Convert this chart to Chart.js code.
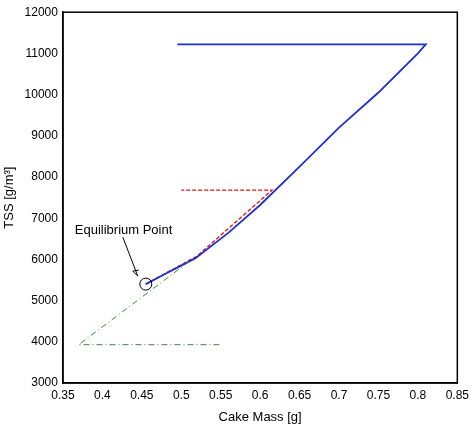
<!DOCTYPE html>
<html><head>
<script src="https://cdn.jsdelivr.net/npm/chart.js@4"></script>
<style>body{margin:0;background:#fff}#wrap{width:474px;height:427px}</style>
</head><body><div id="wrap"><canvas id="c"></canvas></div>
<script>
const blueX = [0.455, 0.48, 0.5, 0.518, 0.56, 0.6, 0.65, 0.7, 0.75, 0.8, 0.81, 0.495];
const blueY = [5400, 5650, 5850, 6030, 6650, 7320, 8250, 9200, 10050, 11000, 11220, 11220];
const redX = [0.455, 0.52, 0.615, 0.50];
const redY = [5400, 6080, 7680, 7680];
const greenX = [0.51, 0.37, 0.55];
const greenY = [5950, 3930, 3930];
const eqX = 0.455, eqY = 5400;

const pts = (xs, ys) => xs.map((x, i) => ({x, y: ys[i]}));

const annot = {
  id: 'annot',
  afterDatasetsDraw(chart) {
    const {ctx, scales: {x, y}, chartArea: a} = chart;
    const px = x.getPixelForValue(eqX), py = y.getPixelForValue(eqY);
    ctx.save();
    ctx.strokeStyle = '#000'; ctx.lineWidth = 1;
    ctx.beginPath(); ctx.arc(px, py, 6, 0, Math.PI * 2); ctx.stroke();
    ctx.beginPath(); ctx.moveTo(px - 23, py - 47); ctx.lineTo(px - 8, py - 8); ctx.stroke();
    ctx.beginPath(); ctx.moveTo(px - 8, py - 8); ctx.lineTo(px - 13, py - 13); ctx.lineTo(px - 7, py - 14); ctx.stroke();
    ctx.fillStyle = '#000'; ctx.font = '13px Arial, "Liberation Sans"';
    ctx.fillText('Equilibrium Point', px - 71, py - 50);
    ctx.lineWidth = 1.5; ctx.strokeRect(a.left, a.top, a.right - a.left, a.bottom - a.top);
    ctx.restore();
  }
};

new Chart(document.getElementById('c'), {
  type: 'scatter',
  data: { datasets: [
    { data: pts(greenX, greenY), showLine: true, borderColor: '#3a8a3a', borderWidth: 1, borderDash: [6, 3, 1, 3], pointRadius: 0 },
    { data: pts(blueX, blueY), showLine: true, borderColor: '#1f2fd0', borderWidth: 1.8, pointRadius: 0 },
    { data: pts(redX, redY), showLine: true, borderColor: '#e01010', borderWidth: 1.3, borderDash: [4, 2], pointRadius: 0 }
  ]},
  options: {
    responsive: true, maintainAspectRatio: false, animation: false,
    layout: { padding: { top: 6, right: 8 } },
    plugins: { legend: { display: false }, tooltip: { enabled: false } },
    scales: {
      x: { min: 0.35, max: 0.85, grid: { display: false, drawTicks: false },
        border: { color: '#000', width: 1.5 },
        ticks: { stepSize: 0.05, color: '#000', font: { size: 12, family: 'Arial, "Liberation Sans"' }, padding: 5,
          callback: v => +v.toFixed(2) + '' },
        title: { display: true, text: 'Cake Mass [g]', color: '#000', font: { size: 13, family: 'Arial, "Liberation Sans"' }, padding: 2 } },
      y: { min: 3000, max: 12000, grid: { display: false, drawTicks: false },
        border: { color: '#000', width: 1.5 },
        ticks: { stepSize: 1000, color: '#000', font: { size: 12, family: 'Arial, "Liberation Sans"' }, padding: 5,
          callback: v => String(v) },
        title: { display: true, text: 'TSS [g/m³]', color: '#000', font: { size: 13, family: 'Arial, "Liberation Sans"' }, padding: 2 } }
    }
  },
  plugins: [annot]
});
</script></body></html>
